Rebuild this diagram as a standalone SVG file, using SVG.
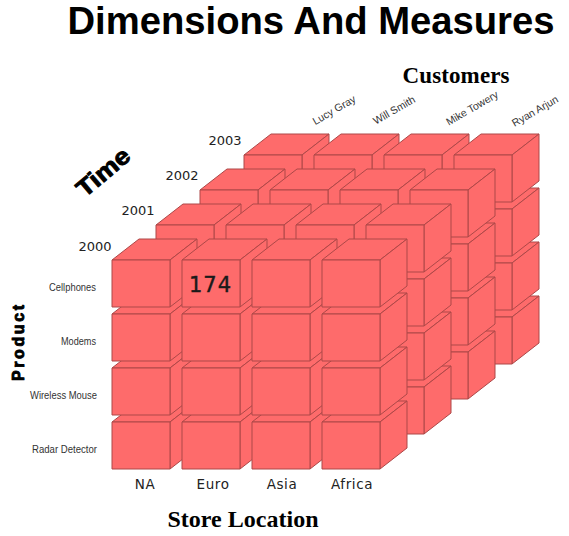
<svg xmlns="http://www.w3.org/2000/svg" xmlns:xlink="http://www.w3.org/1999/xlink" width="569" height="536" viewBox="0 0 569 536">
<style>
.title{font-family:"Liberation Sans",Arial,sans-serif;font-weight:bold;font-size:38px;fill:#000}
.axis{font-family:"Liberation Serif","Times New Roman",serif;font-weight:bold;fill:#000}
.heavy{font-family:"Liberation Sans",Arial,sans-serif;font-weight:bold;fill:#000;stroke:#000;stroke-width:0.9px;stroke-linejoin:round}
.yr{font-family:"DejaVu Sans",Verdana,sans-serif;font-size:13px;fill:#222}
.loc{font-family:"DejaVu Sans",Verdana,sans-serif;font-size:13.5px;fill:#222;letter-spacing:0.6px}
.prod{font-family:"Liberation Sans",Arial,sans-serif;font-size:11px;fill:#333}
.cust{font-family:"Liberation Sans",Arial,sans-serif;font-size:10.5px;fill:#333}
.val{font-family:"DejaVu Sans",Verdana,sans-serif;font-size:21px;fill:#1a1a1a;stroke:#1a1a1a;stroke-width:0.4px}
</style>
<defs>
<g id="cube" fill="#fe6b6b" stroke="#ad4848" stroke-width="1" stroke-linejoin="round">
<path d="M0,0 L27,-21 L85,-21 L58,0 Z"/>
<path d="M58,0 L85,-21 L85,26 L58,47 Z"/>
<path d="M0,0 H58 V47 H0 Z"/>
</g>
</defs>
<rect width="569" height="536" fill="#fff"/>
<text class="title" x="311" y="34" text-anchor="middle" textLength="487" lengthAdjust="spacingAndGlyphs">Dimensions And Measures</text>

<g id="layer-2003">
<use xlink:href="#cube" x="244" y="317"/><use xlink:href="#cube" x="314" y="317"/><use xlink:href="#cube" x="384" y="317"/><use xlink:href="#cube" x="454" y="317"/>
<use xlink:href="#cube" x="244" y="263"/><use xlink:href="#cube" x="314" y="263"/><use xlink:href="#cube" x="384" y="263"/><use xlink:href="#cube" x="454" y="263"/>
<use xlink:href="#cube" x="244" y="209"/><use xlink:href="#cube" x="314" y="209"/><use xlink:href="#cube" x="384" y="209"/><use xlink:href="#cube" x="454" y="209"/>
<use xlink:href="#cube" x="244" y="155"/><use xlink:href="#cube" x="314" y="155"/><use xlink:href="#cube" x="384" y="155"/><use xlink:href="#cube" x="454" y="155"/>
</g>
<g id="layer-2002">
<use xlink:href="#cube" x="200" y="352"/><use xlink:href="#cube" x="270" y="352"/><use xlink:href="#cube" x="340" y="352"/><use xlink:href="#cube" x="410" y="352"/>
<use xlink:href="#cube" x="200" y="298"/><use xlink:href="#cube" x="270" y="298"/><use xlink:href="#cube" x="340" y="298"/><use xlink:href="#cube" x="410" y="298"/>
<use xlink:href="#cube" x="200" y="244"/><use xlink:href="#cube" x="270" y="244"/><use xlink:href="#cube" x="340" y="244"/><use xlink:href="#cube" x="410" y="244"/>
<use xlink:href="#cube" x="200" y="190"/><use xlink:href="#cube" x="270" y="190"/><use xlink:href="#cube" x="340" y="190"/><use xlink:href="#cube" x="410" y="190"/>
</g>
<g id="layer-2001">
<use xlink:href="#cube" x="156" y="387"/><use xlink:href="#cube" x="226" y="387"/><use xlink:href="#cube" x="296" y="387"/><use xlink:href="#cube" x="366" y="387"/>
<use xlink:href="#cube" x="156" y="333"/><use xlink:href="#cube" x="226" y="333"/><use xlink:href="#cube" x="296" y="333"/><use xlink:href="#cube" x="366" y="333"/>
<use xlink:href="#cube" x="156" y="279"/><use xlink:href="#cube" x="226" y="279"/><use xlink:href="#cube" x="296" y="279"/><use xlink:href="#cube" x="366" y="279"/>
<use xlink:href="#cube" x="156" y="225"/><use xlink:href="#cube" x="226" y="225"/><use xlink:href="#cube" x="296" y="225"/><use xlink:href="#cube" x="366" y="225"/>
</g>
<g id="layer-2000">
<use xlink:href="#cube" x="112" y="422"/><use xlink:href="#cube" x="182" y="422"/><use xlink:href="#cube" x="252" y="422"/><use xlink:href="#cube" x="322" y="422"/>
<use xlink:href="#cube" x="112" y="368"/><use xlink:href="#cube" x="182" y="368"/><use xlink:href="#cube" x="252" y="368"/><use xlink:href="#cube" x="322" y="368"/>
<use xlink:href="#cube" x="112" y="314"/><use xlink:href="#cube" x="182" y="314"/><use xlink:href="#cube" x="252" y="314"/><use xlink:href="#cube" x="322" y="314"/>
<use xlink:href="#cube" x="112" y="260"/><use xlink:href="#cube" x="182" y="260"/><use xlink:href="#cube" x="252" y="260"/><use xlink:href="#cube" x="322" y="260"/>
</g>

<text class="val" x="210" y="292" text-anchor="middle" textLength="42">174</text>

<g id="time-labels">
<text class="yr" x="225" y="145" text-anchor="middle">2003</text>
<text class="yr" x="182" y="180" text-anchor="middle">2002</text>
<text class="yr" x="138" y="215" text-anchor="middle">2001</text>
<text class="yr" x="95" y="251" text-anchor="middle">2000</text>
<text class="heavy" font-size="24" x="0" y="0" text-anchor="middle" dy="0.35em" textLength="62" lengthAdjust="spacingAndGlyphs" transform="translate(103,172) rotate(-40)">Time</text>
</g>

<g id="customer-labels">
<text class="axis" font-size="23" x="456" y="83" text-anchor="middle" textLength="107">Customers</text>
<text class="cust" x="0" y="0" text-anchor="middle" dy="0.35em" transform="translate(334,110) rotate(-30)">Lucy Gray</text>
<text class="cust" x="0" y="0" text-anchor="middle" dy="0.35em" transform="translate(394,110) rotate(-30)">Will Smith</text>
<text class="cust" x="0" y="0" text-anchor="middle" dy="0.35em" transform="translate(472,108) rotate(-30)">Mike Towery</text>
<text class="cust" x="0" y="0" text-anchor="middle" dy="0.35em" transform="translate(535,111) rotate(-30)">Ryan Arjun</text>
</g>

<g id="product-labels">
<text class="heavy" font-size="16" x="0" y="0" text-anchor="middle" dy="0.35em" textLength="76" transform="translate(18,343) rotate(-90)">Product</text>
<text class="prod" x="96" y="291" text-anchor="end" textLength="47" lengthAdjust="spacingAndGlyphs">Cellphones</text>
<text class="prod" x="96" y="345" text-anchor="end" textLength="35" lengthAdjust="spacingAndGlyphs">Modems</text>
<text class="prod" x="97" y="399" text-anchor="end" textLength="67" lengthAdjust="spacingAndGlyphs">Wireless Mouse</text>
<text class="prod" x="97" y="453" text-anchor="end" textLength="65" lengthAdjust="spacingAndGlyphs">Radar Detector</text>
</g>

<g id="location-labels">
<text class="loc" x="145" y="489" text-anchor="middle">NA</text>
<text class="loc" x="213" y="489" text-anchor="middle">Euro</text>
<text class="loc" x="282" y="489" text-anchor="middle">Asia</text>
<text class="loc" x="352" y="489" text-anchor="middle">Africa</text>
<text class="axis" font-size="24" x="243" y="527" text-anchor="middle" textLength="151">Store Location</text>
</g>
</svg>
